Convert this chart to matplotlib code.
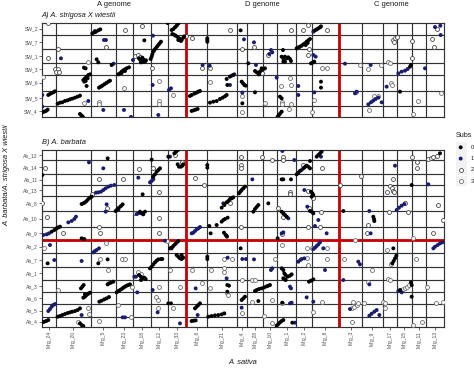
import matplotlib
matplotlib.use('Agg')
import matplotlib.pyplot as plt
import numpy as np
from matplotlib.patches import Rectangle

plt.rcParams['font.family'] = ['Liberation Sans', 'DejaVu Sans']

# ---------------- data ----------------
chromosomes = ['Mrg_24', 'Mrg_20', 'Mrg_5', 'Mrg_23', 'Mrg_18', 'Mrg_12', 'Mrg_33',
               'Mrg_6', 'Mrg_21', 'Mrg_4', 'Mrg_28', 'Mrg_10', 'Mrg_1', 'Mrg_2', 'Mrg_8',
               'Mrg_3', 'Mrg_9', 'Mrg_17', 'Mrg_15', 'Mrg_11', 'Mrg_13']
chrom_lengths = [40, 106, 74, 53, 52, 51, 55, 64, 88, 32, 46, 44, 56, 47, 83,
                 69, 61, 42, 45, 42, 55]
genomes = ['A genome', 'D genome', 'C genome']
genome_chrom_counts = [7, 8, 6]

sw_rows = ['SW_4', 'SW_5', 'SW_6', 'SW_3', 'SW_1', 'SW_7', 'SW_2']
sw_lengths = [35, 45, 48, 35, 42, 43, 36]
ab_rows = ['Ab_4', 'Ab_5', 'Ab_6', 'Ab_3', 'Ab_1', 'Ab_7', 'Ab_2', 'Ab_9', 'Ab_10',
           'Ab_8', 'Ab_13', 'Ab_11', 'Ab_14', 'Ab_12']
ab_lengths = [30, 37, 36, 37, 40, 40, 40, 40, 48, 44, 34, 31, 42, 31]
ab_red_after = 'Ab_2'

subs_levels = ['0', '1', '2', '3']

# Panel A: A. strigosa X wiestii  (x = position on A. sativa, y = position on SW)
A_subs0 = [(150,252),(156,255),(161,257),(168,261),(174,264),
    (376,283),(388,262),(393,265),(398,270),(403,275),(406,280),(409,283),
    (595,261),(818,261),(823,264),(828,267),(833,270),(836,273),
    (390,250),(395,248),(400,245),(406,241),(410,237),(414,235),(418,232),(423,239),(426,243),(416,229),(408,232),
    (495,237),(495,232),(495,227),(306,231),
    (325,175),(328,182),(330,189),(333,197),(336,202),(340,207),(344,212),(348,217),(352,222),(356,227),
    (763,207),(768,210),(773,212),(778,215),(783,219),(788,222),(793,227),(798,231),(803,235),(790,217),(796,223),
    (163,174),(168,165),
    (290,177),(294,172),(298,169),(303,167),(308,167),(296,165),(304,173),(300,179),(311,171),
    (722,202),(718,182),(723,177),(728,182),(733,177),(738,180),(743,175),(746,169),(728,167),(723,167),
    (618,162),(806,162),(811,164),(816,167),
    (125,149),(130,147),(208,157),
    (228,129),(233,132),(238,137),(243,141),(248,144),(253,147),(260,150),(238,133),(248,139),
    (553,115),(563,122),(573,127),
    (638,139),(643,135),(648,132),(653,137),(658,142),(663,145),(668,147),(650,129),(658,147),
    (1106,157),(1103,152),
    (123,112),(128,117),(133,122),(138,127),(143,129),(126,107),(130,109),(136,117),(133,94),
    (170,89),(175,92),(180,95),(186,99),(192,103),(198,107),(203,110),
    (555,97),(598,107),(602,102),(606,97),(610,95),(836,107),(836,89),
    (18,67),(23,70),(28,73),(33,75),(38,78),
    (46,41),(53,44),(60,45),(68,49),(76,51),(83,54),(90,56),(98,59),(106,62),(113,65),
    (443,64),(448,67),(456,71),(463,74),(468,77),(473,79),
    (503,44),(513,47),(523,49),(533,55),(541,59),(548,63),(553,67),
    (600,42),(638,75),(713,62),(718,57),(1073,77),
    (0,15),(6,17),(11,19),(16,23),(113,10),(116,7),(119,4),(122,1),
    (448,19),(454,21),(460,23),(466,25),(706,2),(710,7),(714,12),(718,17)]
A_subs1 = [(158,259),(813,257),(1178,271),(1194,275),(1195,247),
    (185,232),(191,232),(332,245),(605,234),(635,225),
    (56,177),(272,172),(686,202),(690,195),(681,190),(813,187),(820,182),
    (214,161),(481,157),(502,155),(576,129),(568,125),(641,157),(985,157),(908,161),
    (1068,132),(1078,137),(1088,140),(1096,145),(1148,147),
    (331,97),(563,97),(703,119),(768,94),
    (0,67),(138,49),(386,87),(380,82),(600,74),(768,67),(816,75),(938,72),(943,77),
    (978,39),(986,45),(993,50),(1000,55),(1008,59),(1018,45),
    (0,32),(183,22),(245,22),(266,1),(348,7),(1033,92)]
A_subs2 = [(16,283),(248,263),(300,275),(563,261),(746,263),(781,263),(798,277),(854,263),(1183,265),
    (1053,232),(1058,237),(1063,242),(1056,227),(1108,229),(1170,235),(1176,212),
    (430,245),(450,237),(191,210),(600,204),(635,210),(800,205),(46,205),(16,177),
    (278,185),(286,187),(293,182),(678,187),(796,187),(1108,179),
    (38,145),(48,144),(40,137),(50,137),(330,147),(478,147),(502,149),(658,132)]
A_subs3 = [(838,147),(854,147),(978,145),(1016,157),(1038,167),(1043,162),(953,157),
    (3,122),(246,89),(350,110),(503,107),(716,95),(746,97),(744,117),
    (126,42),(170,45),(170,39),(350,49),(350,39),(393,67),(600,64),(720,47),(720,39),(668,42),(745,39),
    (816,52),(940,75),(996,63),(1006,63),(1126,49),(1196,72),
    (600,17),(740,24),(810,17),(1113,9),(980,22),(1046,102),(1048,97),(138,165)]

# Panel B: A. barbata
B_subs0 = [(196,505),(396,520),(401,525),(406,529),(378,510),(803,497),(823,510),(828,515),(833,520),(838,525),(1193,520),
    (328,501),(333,450),(338,457),(343,465),(348,470),(353,475),
    (406,487),(410,480),(416,480),(420,483),(423,487),(495,485),(495,477),
    (763,457),(768,462),(773,467),(783,475),(788,479),(793,483),(798,480),(803,475),
    (0,455),(718,442),(723,442),(746,442),(1108,425),(301,397),
    (590,400),(594,405),(598,410),(603,415),(608,420),
    (806,405),(810,400),(813,395),(808,390),
    (118,368),(123,370),(128,373),(133,377),(138,383),(143,387),(148,390),
    (220,347),(225,352),(230,357),(236,362),(241,367),
    (293,345),(298,340),(303,337),(308,345),
    (538,357),(546,365),(553,373),(558,377),(563,383),(568,385),(573,388),
    (633,345),(638,353),(643,359),(648,365),(678,370),
    (718,345),(723,340),(728,335),(733,330),
    (803,347),(808,345),(813,340),(903,347),
    (993,330),(995,323),(996,317),
    (538,315),(543,320),(548,323),(556,327),(501,302),(523,305),
    (28,285),(36,290),(43,295),(48,298),(53,300),
    (505,280),(545,282),(550,275),(554,270),(118,265),(126,263),(553,273),(706,265),
    (383,235),(388,237),(393,242),(398,247),(403,252),(408,257),
    (595,235),(1053,235),(16,190),(168,190),(196,202),
    (323,175),(328,180),(333,187),(338,193),(343,198),(348,202),(356,203),(360,203),
    (403,215),(408,210),(413,205),(418,203),(423,207),(418,215),
    (495,210),(495,203),
    (1050,190),(1054,197),(1058,205),(1062,213),
    (290,155),(296,150),(300,145),(306,147),(310,143),(296,140),
    (718,175),(723,170),(726,160),(730,155),(736,150),(743,153),(748,157),(723,145),(730,140),
    (116,115),(120,120),(124,125),
    (196,127),(200,130),(206,132),(213,135),
    (223,103),(228,107),(233,110),(238,113),(243,117),(248,120),(253,123),(258,125),(263,127),
    (555,125),(560,123),
    (638,107),(643,110),(650,113),(658,115),(666,118),(673,121),(678,123),(683,125),
    (800,135),(806,138),(813,142),(728,142),(1106,133),(1108,125),
    (123,87),(128,90),(133,95),(138,99),(143,102),(128,97),
    (171,75),(178,78),(186,82),(193,85),(200,89),
    (555,105),(598,80),(603,85),(608,90),(648,77),(1108,90),(1073,110),
    (46,30),(53,32),(60,35),(68,38),(76,41),(83,43),(90,45),(98,47),(106,50),(113,55),
    (378,70),(386,70),(458,55),(463,60),(468,65),(473,70),(720,72),
    (0,13),(6,15),(12,17),(18,20),(113,10),(118,5),(123,2),
    (448,17),(454,18),(460,19),
    (498,30),(508,32),(518,34),(528,35),(538,37),(546,40),
    (703,3),(708,8),(713,13),(718,17),(723,20),(750,12)]
B_subs1 = [(383,510),(720,527),(756,500),(836,510),(140,493),(183,475),(778,470),(1058,483),
    (288,447),(323,433),(328,437),(333,442),(630,442),(1158,427),
    (161,402),(168,403),(176,405),(183,410),(190,415),(198,420),(206,423),(216,425),
    (786,410),(193,367),(190,345),(228,350),(543,370),(795,360),
    (1063,350),(1070,357),(1078,363),(1086,368),
    (78,313),(88,317),(96,323),(101,330),
    (981,347),(738,325),(828,320),(818,302),(283,338),(288,340),
    (3,275),(13,277),(20,280),
    (448,280),(453,282),(458,287),(463,292),(468,295),(473,299),
    (718,280),(723,283),(853,280),(985,280),
    (23,245),(153,223),(158,227),(163,230),(170,235),(368,258),(388,235),
    (813,233),(818,237),(823,242),(828,247),(833,253),(843,235),
    (1173,235),(1178,240),(1186,245),(1193,250),(1200,253),
    (36,200),(118,197),(600,203),(611,203),(635,202),(556,207),
    (768,195),(774,200),(778,203),(786,205),(948,195),(953,187),
    (276,150),(281,150),(686,170),(690,175),(903,140),(848,170),
    (285,103),(460,115),(553,145),(743,120),(746,115),(981,127),(1068,107),
    (793,88),(813,75),(1078,103),(331,110),
    (18,47),(23,53),(28,60),(33,65),(38,68),
    (118,35),(346,43),(466,35),(598,57),(743,70),(748,72),(923,53),
    (981,33),(988,39),(996,45),(1003,50),(1011,35),
    (241,28),(248,28),(413,10),(758,12)]
B_subs2 = [(398,515),(596,508),(660,508),(688,500),(723,510),(723,500),(1108,510),(1123,495),
    (1158,503),(1166,507),(1173,510),(1183,513),
    (8,477),(291,472),(333,477),(418,495),(596,485),(596,475),(783,485),(838,475),(1123,475),
    (171,442),(243,442),(458,445),(485,425),(956,453),(1053,442),
    (150,397),(350,405),(743,405),(743,397),(798,407),(813,385),
    (1033,405),(1043,423),(1048,415),(1051,408),(1055,403),(893,425),
    (0,370),(195,355),(278,340),(563,370),(706,355),(800,355),(836,345),(1088,370),
    (1040,345),(1098,345),(1188,365),
    (13,330),(350,327),(978,305),(1203,320),(723,330),(796,300),(833,300),(596,300),(171,300),
    (63,280),(173,280),(350,280),(720,277),(973,280),(1171,280)]
B_subs3 = [(1113,267),(938,260),(6,237),(191,252),(373,257),(720,245),(793,237),(808,235),(853,235),(1033,230),
    (173,202),(240,202),(248,202),(546,203),(570,203),(698,202),(793,207),(796,185),(854,202),(905,202),
    (1046,187),(1121,202),
    (196,170),(288,163),(296,157),(383,170),(448,170),(506,170),(546,175),(546,165),(990,170),
    (48,110),(268,120),(350,120),(413,120),(478,130),(503,117),(598,140),(630,140),(638,140),
    (978,135),(1038,143),(1043,140),
    (1075,110),(1081,113),(1088,117),(1095,120),(1101,125),(1153,120),
    (340,88),(348,80),(553,100),(558,95),(630,75),(688,80),(838,75),(933,73),(1023,75),(1028,70),(1203,75),
    (138,55),(140,37),(228,65),(348,55),(393,55),(598,40),(718,70),(813,45),
    (928,55),(936,60),(943,65),(946,70),(966,70),(1028,55),(1180,70),
    (108,13),(171,18),(265,28),(666,32),(688,12),(1113,5),(1140,15),(928,15)]

# ---------------- styles ----------------
subs_style = {
    '0': dict(c='#000000', filled=True),
    '1': dict(c='#1c1c6e', filled=True),
    '2': dict(c='#4a4a4a', filled=False),
    '3': dict(c='#6e6e6e', filled=False),
}
GRID = '#333333'
RED = '#c80000'
TXT = '#4d4d4d'
MS = 8

W, H = 474, 370
fig = plt.figure(figsize=(W / 100, H / 100), dpi=100)

def fx(px):
    return px / W

def fy(py):
    return 1 - py / H

L, R = 42.3, 444.0
axA = fig.add_axes([fx(L), fy(117.3), (R - L) / W, (117.3 - 22.7) / H])
axB = fig.add_axes([fx(L), fy(326.7), (R - L) / W, (326.7 - 150.0) / H])

x_edges = np.concatenate([[0], np.cumsum(chrom_lengths)])
x_mid = (x_edges[:-1] + x_edges[1:]) / 2
gen_idx = np.cumsum(genome_chrom_counts)
genome_bounds = x_edges[gen_idx[:-1]]


def draw_panel(ax, rows, lengths, data, red_rows=None):
    y_edges = np.concatenate([[0], np.cumsum(lengths)])
    y_mid = (y_edges[:-1] + y_edges[1:]) / 2
    ax.set_xlim(0, x_edges[-1])
    ax.set_ylim(0, y_edges[-1])
    for xv in x_edges[1:-1]:
        ax.axvline(xv, color=GRID, lw=0.85, zorder=1)
    for yv in y_edges[1:-1]:
        ax.axhline(yv, color=GRID, lw=0.85, zorder=1)
    for xv in genome_bounds:
        ax.axvline(xv, color=RED, lw=2.0, zorder=2)
    if red_rows is not None:
        ax.axhline(y_edges[rows.index(red_rows) + 1], color=RED, lw=2.0, zorder=2)
    for lev in ['3', '2', '1', '0']:
        pts = data[lev]
        xs = [p[0] for p in pts]
        ys = [p[1] for p in pts]
        st = subs_style[lev]
        if st['filled']:
            ax.scatter(xs, ys, s=MS, c=st['c'], edgecolors='none', zorder=3)
        else:
            ax.scatter(xs, ys, s=MS, facecolors='white', edgecolors=st['c'],
                       linewidths=0.6, zorder=3)
    for sp in ax.spines.values():
        sp.set_color(GRID)
        sp.set_linewidth(0.85)
    ax.set_yticks(y_mid)
    ax.set_yticklabels(rows)
    ax.tick_params(axis='both', length=2, width=0.5, color='#333333',
                   labelsize=3.6, labelcolor=TXT, pad=1.2)


draw_panel(axA, sw_rows, sw_lengths,
           {'0': A_subs0, '1': A_subs1, '2': A_subs2, '3': A_subs3})
draw_panel(axB, ab_rows, ab_lengths,
           {'0': B_subs0, '1': B_subs1, '2': B_subs2, '3': B_subs3},
           red_rows=ab_red_after)
axA.set_xticks([])
axB.set_xticks(x_mid)
axB.set_xticklabels(chromosomes, rotation=90)

# genome strip labels
gx = (np.concatenate([[0], genome_bounds]) + np.concatenate([genome_bounds, [x_edges[-1]]])) / 2
for g, xv in zip(genomes, gx):
    fig.text(fx(L + xv * (R - L) / x_edges[-1]), fy(4.5), g, ha='center', va='center',
             fontsize=5.4, color='#1a1a1a')

fig.text(fx(41.5), fy(15.5), 'A) A. strigosa X wiestii', ha='left', va='center',
         fontsize=5.4, style='italic', color='#1a1a1a')
fig.text(fx(41.5), fy(142.5), 'B) A. barbata', ha='left', va='center',
         fontsize=5.4, style='italic', color='#1a1a1a')
fig.text(fx(243), fy(362), 'A. sativa', ha='center', va='center',
         fontsize=5.4, style='italic', color='#1a1a1a')
fig.text(fx(6.5), fy(175), 'A. barbata/A. strigosa X wiestii', ha='center', va='center',
         rotation=90, fontsize=5.4, style='italic', color='#1a1a1a')

# legend
fig.text(fx(455.5), fy(135), 'Subs', ha='left', va='center', fontsize=5.2, color='#1a1a1a')
axL = fig.add_axes([fx(456), fy(186.7), 18 / W, 45 / H])
axL.set_xlim(0, 18)
axL.set_ylim(0, 4)
axL.axis('off')
for i, lev in enumerate(subs_levels):
    yc = 3.5 - i
    axL.add_patch(Rectangle((0, yc - 0.48), 11, 0.96, color='#f2f2f2', lw=0))
    st = subs_style[lev]
    if st['filled']:
        axL.scatter([4.7], [yc], s=MS, c=st['c'], edgecolors='none', clip_on=False)
    else:
        axL.scatter([4.7], [yc], s=MS, facecolors='white', edgecolors=st['c'],
                    linewidths=0.6, clip_on=False)
    axL.text(14.5, yc, lev, ha='left', va='center', fontsize=4.2, color='#1a1a1a')

fig.savefig('out.png', dpi=100)
